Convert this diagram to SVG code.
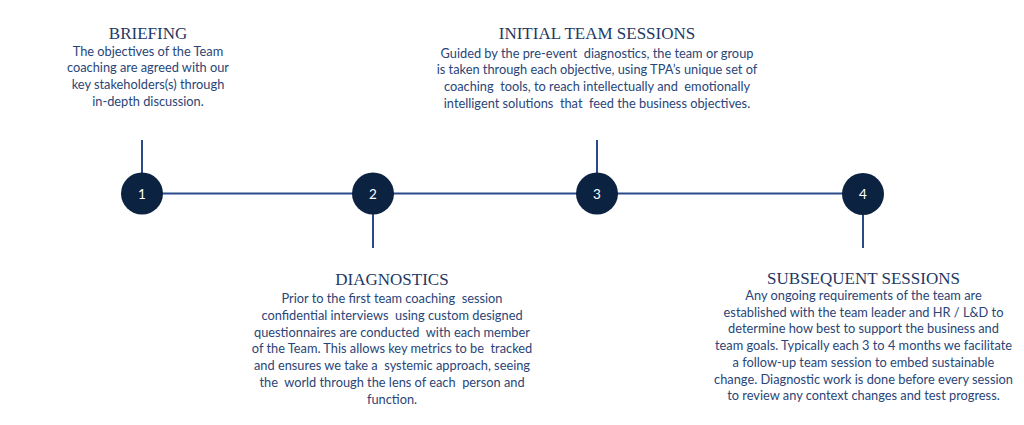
<svg xmlns="http://www.w3.org/2000/svg" width="1024" height="425" viewBox="0 0 1024 425">
<style>
.title{font-family:"Liberation Serif","Times New Roman",serif;font-size:17px;fill:#1f3864;text-anchor:middle}
.body{font-family:Lato,"Liberation Sans",sans-serif;font-size:12.8px;fill:#2a4577;text-anchor:middle;white-space:pre}
.num{font-family:Lato,"Liberation Sans",sans-serif;font-size:13.5px;fill:#ffffff;text-anchor:middle}
.conn{stroke:#2b4a8a;stroke-width:2;fill:none}
.dot{fill:#0b2240}
</style>
<rect width="1024" height="425" fill="#ffffff"/>
<g id="connectors">
<line class="conn" x1="142" y1="193.5" x2="863" y2="193.5"/>
<line class="conn" x1="142" y1="140" x2="142" y2="193"/>
<line class="conn" x1="373" y1="193" x2="373" y2="248"/>
<line class="conn" x1="597" y1="140" x2="597" y2="193"/>
<line class="conn" x1="863" y1="194" x2="863" y2="248"/>
</g>
<g id="node1">
<circle class="dot" cx="142" cy="193.5" r="21"/>
<text class="num" x="142" y="198.5">1</text>
</g>
<g id="node2">
<circle class="dot" cx="373" cy="193.5" r="21"/>
<text class="num" x="373" y="198.5">2</text>
</g>
<g id="node3">
<circle class="dot" cx="597" cy="193.5" r="21"/>
<text class="num" x="597" y="198.5">3</text>
</g>
<g id="node4">
<circle class="dot" cx="863" cy="194" r="21"/>
<text class="num" x="863" y="199">4</text>
</g>
<g id="briefing" xml:space="preserve">
<text class="title" x="148" y="39">BRIEFING</text>
<text class="body" x="148" y="55.7">The objectives of the Team</text>
<text class="body" x="148" y="72.3">coaching are agreed with our</text>
<text class="body" x="148" y="89">key stakeholders(s) through</text>
<text class="body" x="148" y="105.7">in-depth discussion.</text>
</g>
<g id="initial" xml:space="preserve">
<text class="title" x="597" y="38.5">INITIAL TEAM SESSIONS</text>
<text class="body" x="597" y="57.5">Guided by the pre-event  diagnostics, the team or group</text>
<text class="body" x="597" y="74.2">is taken through each objective, using TPA’s unique set of</text>
<text class="body" x="597" y="90.9">coaching  tools, to reach intellectually and  emotionally</text>
<text class="body" x="597" y="107.6">intelligent solutions  that  feed the business objectives.</text>
</g>
<g id="diagnostics" xml:space="preserve">
<text class="title" x="392" y="285">DIAGNOSTICS</text>
<text class="body" x="392" y="303.3">Prior to the first team coaching  session</text>
<text class="body" x="392" y="320">confidential interviews  using custom designed</text>
<text class="body" x="392" y="336.7">questionnaires are conducted  with each member</text>
<text class="body" x="392" y="353.4">of the Team. This allows key metrics to be  tracked</text>
<text class="body" x="392" y="370.1">and ensures we take a  systemic approach, seeing</text>
<text class="body" x="392" y="386.8">the  world through the lens of each  person and</text>
<text class="body" x="392" y="403.5">function.</text>
</g>
<g id="subsequent" xml:space="preserve">
<text class="title" x="863.5" y="283.5">SUBSEQUENT SESSIONS</text>
<text class="body" x="863.5" y="300">Any ongoing requirements of the team are</text>
<text class="body" x="863.5" y="316.7">established with the team leader and HR / L&amp;D to</text>
<text class="body" x="863.5" y="333.4">determine how best to support the business and</text>
<text class="body" x="863.5" y="350.1">team goals. Typically each 3 to 4 months we facilitate</text>
<text class="body" x="863.5" y="366.8">a follow-up team session to embed sustainable</text>
<text class="body" x="863.5" y="383.5">change. Diagnostic work is done before every session</text>
<text class="body" x="863.5" y="400.2">to review any context changes and test progress.</text>
</g>
</svg>
